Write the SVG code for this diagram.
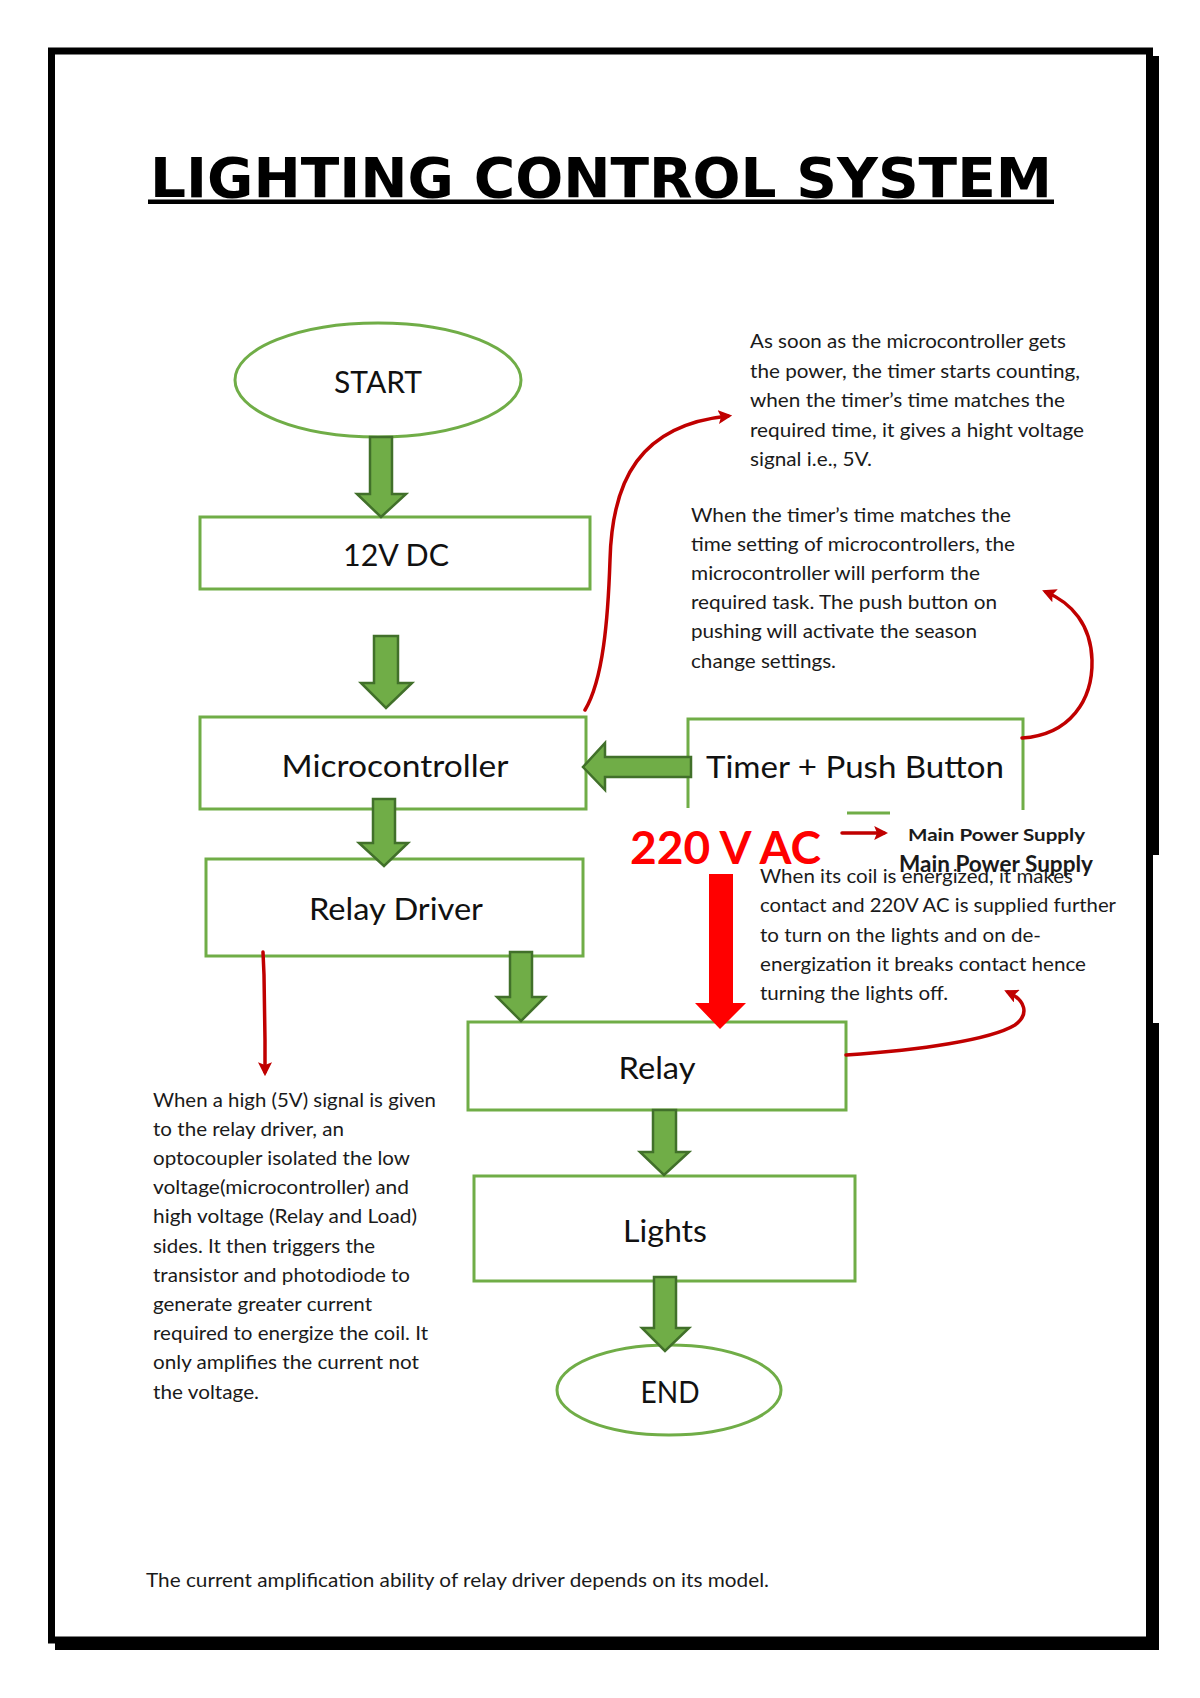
<svg xmlns="http://www.w3.org/2000/svg" width="1200" height="1698" viewBox="0 0 1200 1698">
<style>
.box{fill:#fff;stroke:#70AD47;stroke-width:3}
.garrow{fill:#70AD47;stroke:#41702A;stroke-width:2.5;stroke-linejoin:miter}
.lbl{font-family:Lato,"Liberation Sans",sans-serif;font-size:30px;fill:#111;text-anchor:middle}
.body{font-family:Lato,"Liberation Sans",sans-serif;font-size:19px;fill:#1a1a1a}
.rline{fill:none;stroke:#C00000;stroke-width:3.5;stroke-linecap:round}
.bold{font-family:Lato,"Liberation Sans",sans-serif;font-weight:bold}
</style>
<defs>
<marker id="rh" viewBox="0 0 10 10" refX="7" refY="5" markerWidth="4" markerHeight="4" orient="auto" markerUnits="strokeWidth">
<path d="M0,0 L10,5 L0,10 L2,5 Z" fill="#C00000"/>
</marker>
</defs>
<rect width="1200" height="1698" fill="#fff"/>
<g id="frame">
<rect x="51.5" y="51" width="1098" height="1589" fill="none" stroke="#000" stroke-width="7"/>
<rect x="1150" y="56" width="9" height="799" fill="#000"/>
<rect x="1150" y="1023" width="9" height="627" fill="#000"/>
<rect x="55" y="1641" width="1104" height="9" fill="#000"/>
</g>
<g id="title">
<text x="150" y="197" font-family="'DejaVu Sans',Verdana,sans-serif" font-weight="bold" font-size="55" textLength="902" lengthAdjust="spacingAndGlyphs" fill="#000">LIGHTING CONTROL SYSTEM</text>
<rect x="148" y="199.5" width="906" height="4.5" fill="#000"/>
</g>
<g id="start">
<ellipse cx="378" cy="380" rx="143" ry="57" fill="#fff" stroke="#70AD47" stroke-width="3"/>
<text class="lbl" x="378" y="393" textLength="88" lengthAdjust="spacingAndGlyphs">START</text>
</g>
<g id="dc12">
<rect class="box" x="200" y="517" width="390" height="72"/>
<text class="lbl" x="396" y="566" textLength="106" lengthAdjust="spacingAndGlyphs">12V DC</text>
</g>
<g id="micro">
<rect class="box" x="200" y="717" width="386" height="92"/>
<text class="lbl" x="395" y="777" textLength="227" lengthAdjust="spacingAndGlyphs">Microcontroller</text>
</g>
<g id="timer">
<path d="M688,808 L688,719 L1023,719 L1023,810" fill="none" stroke="#70AD47" stroke-width="3"/>
<line x1="847" y1="813" x2="890" y2="813" stroke="#70AD47" stroke-width="3"/>
<text class="lbl" x="855" y="778" font-size="32" textLength="298" lengthAdjust="spacingAndGlyphs">Timer + Push Button</text>
</g>
<g id="driver">
<rect class="box" x="206" y="859" width="377" height="97"/>
<text class="lbl" x="396" y="920" textLength="174" lengthAdjust="spacingAndGlyphs">Relay Driver</text>
</g>
<g id="relay">
<rect class="box" x="468" y="1022" width="378" height="88"/>
<text class="lbl" x="657" y="1079" textLength="77" lengthAdjust="spacingAndGlyphs">Relay</text>
</g>
<g id="lights">
<rect class="box" x="474" y="1176" width="381" height="105"/>
<text class="lbl" x="665" y="1242" textLength="84" lengthAdjust="spacingAndGlyphs">Lights</text>
</g>
<g id="end">
<ellipse cx="669" cy="1390" rx="112" ry="45" fill="#fff" stroke="#70AD47" stroke-width="3"/>
<text class="lbl" x="670" y="1403" textLength="59" lengthAdjust="spacingAndGlyphs">END</text>
</g>
<g id="connectors">
<polygon class="garrow" points="370,437 392,437 392,494 406,494 381,517 357,494 370,494"/>
<polygon class="garrow" points="374,636 398,636 398,683 412,683 386,708 361,683 374,683"/>
<polygon class="garrow" points="373,799 395,799 395,843 408,843 384,866 359,843 373,843"/>
<polygon class="garrow" points="510,952 532,952 532,997 545,997 521,1021 497,997 510,997"/>
<polygon class="garrow" points="653,1110 676,1110 676,1152 689,1152 664,1175 640,1152 653,1152"/>
<polygon class="garrow" points="654,1277 676,1277 676,1328 689,1328 665,1351 642,1328 654,1328"/>
<polygon class="garrow" points="691,757 691,777 605,777 605,790 583,767 605,743 605,757"/>
<polygon points="709,874 733,874 733,1003 746,1003 720,1029 695,1003 709,1003" fill="#FF0000"/>
<path class="rline" d="M585,710 C603,680 608,620 610,560 C612,480 640,425 728,416" marker-end="url(#rh)"/>
<path class="rline" d="M1022,738 C1070,735 1093,700 1092,660 C1091,625 1072,603 1046,592" marker-end="url(#rh)"/>
<path class="rline" d="M846,1055 C920,1050 990,1040 1015,1025 C1030,1014 1025,1000 1008,992" marker-end="url(#rh)"/>
<path class="rline" d="M263,952 L264,975 L265,1040 L265,1072" stroke-width="3" marker-end="url(#rh)"/>
<path class="rline" d="M842,833 L884,833" stroke-width="3.5" marker-end="url(#rh)"/>
</g>
<g id="labels">
<text class="bold" x="630" y="864" font-size="45" fill="#FF0000" textLength="191" lengthAdjust="spacingAndGlyphs">220 V AC</text>
<text class="bold" x="908" y="841" font-size="17" fill="#1a1a1a" textLength="177" lengthAdjust="spacingAndGlyphs">Main Power Supply</text>
<text class="bold" x="899" y="872" font-size="22" fill="#1a1a1a" textLength="194" lengthAdjust="spacingAndGlyphs">Main Power Supply</text>
</g>
<g id="note-timer" class="body">
<text x="750" y="348" textLength="316" lengthAdjust="spacingAndGlyphs">As soon as the microcontroller gets</text>
<text x="750" y="378" textLength="330" lengthAdjust="spacingAndGlyphs">the power, the timer starts counting,</text>
<text x="750" y="407" textLength="315" lengthAdjust="spacingAndGlyphs">when the timer’s time matches the</text>
<text x="750" y="437" textLength="334" lengthAdjust="spacingAndGlyphs">required time, it gives a hight voltage</text>
<text x="750" y="466" textLength="122" lengthAdjust="spacingAndGlyphs">signal i.e., 5V.</text>
</g>
<g id="note-micro" class="body">
<text x="691" y="522" textLength="320" lengthAdjust="spacingAndGlyphs">When the timer’s time matches the</text>
<text x="691" y="551" textLength="324" lengthAdjust="spacingAndGlyphs">time setting of microcontrollers, the</text>
<text x="691" y="580" textLength="289" lengthAdjust="spacingAndGlyphs">microcontroller will perform the</text>
<text x="691" y="609" textLength="306" lengthAdjust="spacingAndGlyphs">required task. The push button on</text>
<text x="691" y="638" textLength="286" lengthAdjust="spacingAndGlyphs">pushing will activate the season</text>
<text x="691" y="668" textLength="145" lengthAdjust="spacingAndGlyphs">change settings.</text>
</g>
<g id="note-relay" class="body">
<text x="760" y="883" textLength="313" lengthAdjust="spacingAndGlyphs">When its coil is energized, it makes</text>
<text x="760" y="912" textLength="356" lengthAdjust="spacingAndGlyphs">contact and 220V AC is supplied further</text>
<text x="760" y="942" textLength="281" lengthAdjust="spacingAndGlyphs">to turn on the lights and on de-</text>
<text x="760" y="971" textLength="326" lengthAdjust="spacingAndGlyphs">energization it breaks contact hence</text>
<text x="760" y="1000" textLength="188" lengthAdjust="spacingAndGlyphs">turning the lights off.</text>
</g>
<g id="note-driver" class="body">
<text x="153" y="1107" textLength="283" lengthAdjust="spacingAndGlyphs">When a high (5V) signal is given</text>
<text x="153" y="1136" textLength="191" lengthAdjust="spacingAndGlyphs">to the relay driver, an</text>
<text x="153" y="1165" textLength="257" lengthAdjust="spacingAndGlyphs">optocoupler isolated the low</text>
<text x="153" y="1194" textLength="256" lengthAdjust="spacingAndGlyphs">voltage(microcontroller) and</text>
<text x="153" y="1223" textLength="264" lengthAdjust="spacingAndGlyphs">high voltage (Relay and Load)</text>
<text x="153" y="1253" textLength="222" lengthAdjust="spacingAndGlyphs">sides. It then triggers the</text>
<text x="153" y="1282" textLength="257" lengthAdjust="spacingAndGlyphs">transistor and photodiode to</text>
<text x="153" y="1311" textLength="219" lengthAdjust="spacingAndGlyphs">generate greater current</text>
<text x="153" y="1340" textLength="275" lengthAdjust="spacingAndGlyphs">required to energize the coil. It</text>
<text x="153" y="1369" textLength="266" lengthAdjust="spacingAndGlyphs">only amplifies the current not</text>
<text x="153" y="1399" textLength="106" lengthAdjust="spacingAndGlyphs">the voltage.</text>
</g>
<g id="footer" class="body">
<text x="146" y="1587" textLength="623" lengthAdjust="spacingAndGlyphs">The current amplification ability of relay driver depends on its model.</text>
</g>
</svg>
